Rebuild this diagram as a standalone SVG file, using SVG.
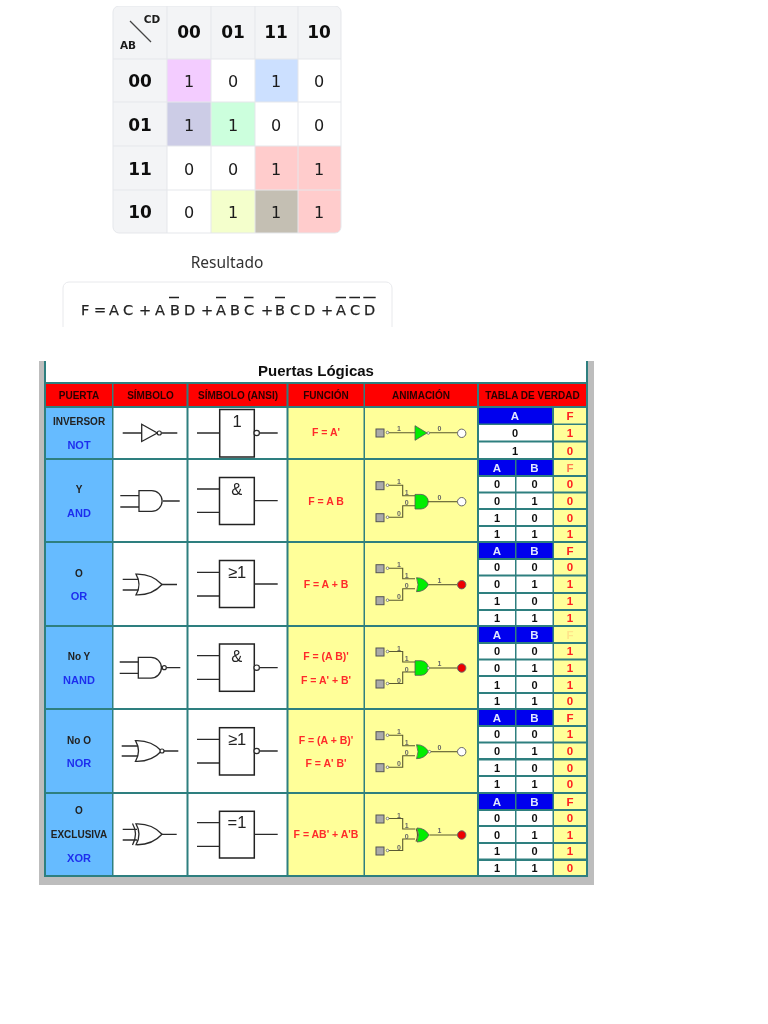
<svg xmlns="http://www.w3.org/2000/svg" xmlns:xlink="http://www.w3.org/1999/xlink" width="768" height="1024" viewBox="0 0 768 1024">
<style>
.kh{font:bold 17px "DejaVu Sans",sans-serif;fill:#111;text-anchor:middle}
.kd{font:16px "DejaVu Sans",sans-serif;fill:#1a1a1a;text-anchor:middle}
.ks{font:bold 10.5px "DejaVu Sans",sans-serif;fill:#1a1a1a;text-anchor:middle}
.kg{stroke:#e5e7eb;stroke-width:1;fill:none}
.th{font:bold 10px "Liberation Sans",sans-serif;fill:#2a0505;text-anchor:middle}
.n1{font:bold 10px "Liberation Sans",sans-serif;fill:#222;text-anchor:middle}
.n2{font:bold 11px "Liberation Sans",sans-serif;fill:#1f2fee;text-anchor:middle}
.fn{font:bold 10.5px "Liberation Sans",sans-serif;fill:#ff2a2a;text-anchor:middle}
.tv{font:bold 11px "Liberation Sans",sans-serif;fill:#111;text-anchor:middle}
.tr{font:bold 11.5px "Liberation Sans",sans-serif;fill:#ff2020;text-anchor:middle}
.tb{font:bold 11.5px "Liberation Sans",sans-serif;fill:#dfe6ff;text-anchor:middle}
.sm{font:bold 7px "Liberation Sans",sans-serif;fill:#666;text-anchor:middle}
.ansi{font:16.5px "Liberation Sans",sans-serif;fill:#222;text-anchor:middle}
.c-b{fill:#66bbff}.c-w{fill:#fff}.c-y{fill:#ffff99}.c-r{fill:#f00}.c-k{fill:#0000ee}
.sy{stroke:#2a2a2a;stroke-width:1.3;fill:none}
.sb{stroke:#2a2a2a;stroke-width:1.2;fill:#fff}
.ar{stroke:#222;stroke-width:1.5;fill:#fff}
.w{stroke:#5a5a30;stroke-width:1.1;fill:none}
.gt{fill:#00ee00;stroke:#555;stroke-width:.8}
.bb{fill:#fff;stroke:#666;stroke-width:.8}
</style>
<defs>
<filter id="soft" x="0" y="0" width="100%" height="100%"><feGaussianBlur stdDeviation="0.35"/></filter>
<clipPath id="kc"><rect x="113" y="6" width="228" height="227" rx="6"/></clipPath>
<g id="sq"><rect x="0" y="0" width="8" height="8" fill="#aaa" stroke="#555" stroke-width="1"/><circle cx="11.5" cy="3.5" r="1.3" class="bb"/></g>
<g id="wires"><use xlink:href="#sq" x="376" y="-20"/><use xlink:href="#sq" x="376" y="12"/><path class="w" d="M389-16.500H402.700V-6H415M389 15.500H402.700V4H415"/></g>
<path id="aAND" class="gt" d="M0-7.300H6A7.300 7.300 0 0 1 6 7.300H0Z"/>
<path id="aOR" class="gt" d="M0-7Q8-7 12 0Q8 7 0 7Q3 0 0-7Z"/>
<path id="bAND" class="sy" d="M0-10.400H12.700A10.400 10.400 0 0 1 12.700 10.400H0Z"/>
<path id="bOR" class="sy" d="M0-10.400Q16-11 26 0Q16 11 0 10.400Q6 0 0-10.400Z"/>
</defs>
<rect width="768" height="1024" fill="#fff"/>
<g id="lamina" filter="url(#soft)">

<g id="mapa-karnaugh">
<g clip-path="url(#kc)">
<rect x="113" y="6" width="228" height="227" fill="#f3f4f6"/>
<rect x="167" y="59" width="174" height="174" fill="#fff"/>
<rect x="167" y="59" width="44" height="43" fill="#f3ccff"/>
<rect x="255" y="59" width="43" height="43" fill="#cce0ff"/>
<rect x="167" y="102" width="44" height="44" fill="#ccccE6"/>
<rect x="211" y="102" width="44" height="44" fill="#ccffdd"/>
<rect x="255" y="146" width="86" height="44" fill="#ffcccc"/>
<rect x="211" y="190" width="44" height="43" fill="#f4ffcc"/>
<rect x="255" y="190" width="43" height="43" fill="#c4bfb3"/>
<rect x="298" y="190" width="43" height="43" fill="#ffcccc"/>
<path class="kg" d="M167 6V233M211 6V233M255 6V233M298 6V233M113 59H341M113 102H341M113 146H341M113 190H341"/>
</g>
<rect x="113" y="6" width="228" height="227" rx="6" class="kg"/>
<path d="M130 21L151 42" stroke="#444" stroke-width="1.2" fill="none"/>
<text x="152" y="23" class="ks">CD</text><text x="128" y="49" class="ks">AB</text>
<text x="189" y="38" class="kh">00</text><text x="233" y="38" class="kh">01</text><text x="276" y="38" class="kh">11</text><text x="319" y="38" class="kh">10</text>
<text x="140" y="87" class="kh">00</text><text x="140" y="131" class="kh">01</text><text x="140" y="175" class="kh">11</text><text x="140" y="218" class="kh">10</text>
<text x="189" y="87" class="kd">1</text><text x="233" y="87" class="kd">0</text><text x="276" y="87" class="kd">1</text><text x="319" y="87" class="kd">0</text>
<text x="189" y="131" class="kd">1</text><text x="233" y="131" class="kd">1</text><text x="276" y="131" class="kd">0</text><text x="319" y="131" class="kd">0</text>
<text x="189" y="175" class="kd">0</text><text x="233" y="175" class="kd">0</text><text x="276" y="175" class="kd">1</text><text x="319" y="175" class="kd">1</text>
<text x="189" y="218" class="kd">0</text><text x="233" y="218" class="kd">1</text><text x="276" y="218" class="kd">1</text><text x="319" y="218" class="kd">1</text>
</g>

<g id="resultado">
<text x="227" y="268" font-family="Noto Sans, sans-serif" font-size="15.500" fill="#333" text-anchor="middle">Resultado</text>
<path d="M63 327V288A6 6 0 0 1 69 282H386A6 6 0 0 1 392 288V327" fill="none" stroke="#e8e9ec"/>
<text y="315" font-family="DejaVu Sans, sans-serif" font-size="14.500" fill="#222" stroke="#222" stroke-width=".25" x="81 90 94 103 109 118 123 133 139 150 155 165 170 180 184 195 201 211 216 226 230 240 244 255 261 270 275 285 290 300 304 315 321 330 336 346 350 360 364">F = A C + A B D + A B C + B C D + A C D</text>
<path d="M169 297.500H179M216 297.500H226M244 297.500H253.500M275 297.500H285M335.700 297.500H346M349.300 297.500H360M363.300 297.500H375.700" stroke="#222" stroke-width="1.500"/>
</g>

<g id="tabla-marco">
<rect x="39" y="361" width="555" height="524" fill="#bdbdbd"/>
<rect x="44" y="361" width="544" height="516" fill="#2f7f7f"/>
<rect x="46" y="361" width="540" height="21" fill="#fff"/>
<text x="316" y="376" font-family="Liberation Sans, sans-serif" font-size="15" font-weight="bold" fill="#111" text-anchor="middle">Puertas Lógicas</text>
</g>

<g id="encabezado">
<rect x="46" y="384" width="66" height="22" class="c-r"/><rect x="113.500" y="384" width="73" height="22" class="c-r"/><rect x="188.500" y="384" width="98" height="22" class="c-r"/><rect x="288.500" y="384" width="75" height="22" class="c-r"/><rect x="365" y="384" width="112" height="22" class="c-r"/><rect x="479" y="384" width="107" height="22" class="c-r"/>
<text x="79" y="399" class="th">PUERTA</text><text x="150.500" y="399" class="th">SÍMBOLO</text><text x="238" y="399" class="th">SÍMBOLO (ANSI)</text><text x="326" y="399" class="th">FUNCIÓN</text><text x="421" y="399" class="th">ANIMACIÓN</text><text x="532.500" y="399" class="th">TABLA DE VERDAD</text>
</g>

<g id="fila-not">
<rect x="46" y="408" width="66" height="50" class="c-b"/><rect x="113.500" y="408" width="73" height="50" class="c-w"/><rect x="188.500" y="408" width="98" height="50" class="c-w"/><rect x="288.500" y="408" width="75" height="50" class="c-y"/><rect x="365" y="408" width="112" height="50" class="c-y"/>
<text x="79" y="425" class="n1">INVERSOR</text><text x="79" y="449" class="n2">NOT</text>
<path class="sy" d="M122.700 433H141.700M161.500 433H177.300M141.700 424.300L157.300 433L141.700 441.500Z"/><circle cx="159.300" cy="433" r="2" class="sb"/>
<rect x="219.700" y="409.500" width="34.600" height="47.500" class="ar"/><path class="sy" d="M197 433H219.700M259.500 433H277.700"/><circle cx="256.700" cy="433" r="2.700" class="sb"/><text x="237" y="427" class="ansi">1</text>
<text x="326" y="436" class="fn">F = A'</text>
<use xlink:href="#sq" x="376" y="429"/><path class="w" d="M389 432.700H415M430 432.700H457"/><path class="gt" d="M415 425.700L427 433L415 440.300Z"/><circle cx="428.300" cy="433" r="1.300" class="bb"/><circle cx="461.700" cy="433.300" r="4.200" fill="#fff" stroke="#666"/>
<text x="399" y="431" class="sm">1</text><text x="439.500" y="431" class="sm">0</text>
<rect x="479" y="408" width="73" height="15.500" class="c-k"/><rect x="554" y="408" width="32" height="15.500" class="c-y"/><rect x="479" y="425" width="73" height="15.500" class="c-w"/><rect x="554" y="425" width="32" height="15.500" class="c-y"/><rect x="479" y="442.500" width="73" height="15.500" class="c-w"/><rect x="554" y="442.500" width="32" height="15.500" class="c-y"/>
<text x="515" y="420" class="tb">A</text><text x="570" y="420" class="tr">F</text><text x="515" y="437" class="tv">0</text><text x="570" y="437" class="tr">1</text><text x="515" y="455" class="tv">1</text><text x="570" y="455" class="tr">0</text>
</g>

<g id="fila-and">
<rect x="46" y="460" width="66" height="81" class="c-b"/><rect x="113.500" y="460" width="73" height="81" class="c-w"/><rect x="188.500" y="460" width="98" height="81" class="c-w"/><rect x="288.500" y="460" width="75" height="81" class="c-y"/><rect x="365" y="460" width="112" height="81" class="c-y"/>
<text x="79" y="493" class="n1">Y</text><text x="79" y="517" class="n2">AND</text>
<use xlink:href="#bAND" x="139" y="501"/><path class="sy" d="M120.300 495.700H139M120.300 507H139M163 501H179.700"/>
<rect x="219.500" y="477.500" width="34.800" height="47" class="ar"/><path class="sy" d="M197 489H219.500M197 512.300H219.500M254.300 500.700H277.700"/><text x="236.700" y="495" class="ansi">&amp;</text>
<text x="326" y="504.500" class="fn">F = A B</text>
<use xlink:href="#wires" y="501.700"/><use xlink:href="#aAND" x="415" y="501.700"/><path class="w" d="M427.500 501.700H457"/><circle cx="461.700" cy="501.700" r="4.200" fill="#fff" stroke="#666"/>
<text x="399" y="484" class="sm">1</text><text x="406.700" y="495" class="sm">1</text><text x="399" y="516" class="sm">0</text><text x="406.700" y="505" class="sm">0</text><text x="439.500" y="500" class="sm">0</text>
<rect x="479" y="460" width="36" height="15" class="c-k"/><rect x="516.500" y="460" width="36" height="15" class="c-k"/><rect x="554" y="460" width="32" height="15" class="c-y"/>
<rect x="479" y="477" width="36" height="14.500" class="c-w"/><rect x="516.500" y="477" width="36" height="14.500" class="c-w"/><rect x="554" y="477" width="32" height="14.500" class="c-y"/>
<rect x="479" y="493.500" width="36" height="14.500" class="c-w"/><rect x="516.500" y="493.500" width="36" height="14.500" class="c-w"/><rect x="554" y="493.500" width="32" height="14.500" class="c-y"/>
<rect x="479" y="510" width="36" height="15" class="c-w"/><rect x="516.500" y="510" width="36" height="15" class="c-w"/><rect x="554" y="510" width="32" height="15" class="c-y"/>
<rect x="479" y="527" width="36" height="14" class="c-w"/><rect x="516.500" y="527" width="36" height="14" class="c-w"/><rect x="554" y="527" width="32" height="14" class="c-y"/>
<text x="497" y="471.500" class="tb">A</text><text x="534.500" y="471.500" class="tb">B</text><text x="570" y="471.500" class="tr" opacity=".6">F</text>
<text x="497" y="488" class="tv">0</text><text x="534.500" y="488" class="tv">0</text><text x="570" y="488" class="tr">0</text>
<text x="497" y="504.500" class="tv">0</text><text x="534.500" y="504.500" class="tv">1</text><text x="570" y="504.500" class="tr">0</text>
<text x="497" y="521.500" class="tv">1</text><text x="534.500" y="521.500" class="tv">0</text><text x="570" y="521.500" class="tr">0</text>
<text x="497" y="538" class="tv">1</text><text x="534.500" y="538" class="tv">1</text><text x="570" y="538" class="tr">1</text>
</g>

<g id="fila-or">
<rect x="46" y="543" width="66" height="82" class="c-b"/><rect x="113.500" y="543" width="73" height="82" class="c-w"/><rect x="188.500" y="543" width="98" height="82" class="c-w"/><rect x="288.500" y="543" width="75" height="82" class="c-y"/><rect x="365" y="543" width="112" height="82" class="c-y"/>
<text x="79" y="576.700" class="n1">O</text><text x="79" y="600" class="n2">OR</text>
<use xlink:href="#bOR" x="136" y="584.500"/><path class="sy" d="M122.700 579.300H138.300M122.700 590H138.300M161.700 584.500H177"/>
<rect x="219.500" y="560.500" width="34.800" height="47" class="ar"/><path class="sy" d="M197 572.300H219.500M197 596H219.500M254.300 584H277.700"/><text x="237" y="578" class="ansi">≥1</text>
<text x="326" y="587.500" class="fn">F = A + B</text>
<use xlink:href="#wires" y="584.700"/><use xlink:href="#aOR" x="416.500" y="584.700"/><path class="w" d="M428.500 584.700H457"/><circle cx="461.700" cy="584.700" r="4.200" fill="#ee0000" stroke="#666"/>
<text x="399" y="567" class="sm">1</text><text x="406.700" y="578" class="sm">1</text><text x="399" y="599" class="sm">0</text><text x="406.700" y="588" class="sm">0</text><text x="439.500" y="583" class="sm">1</text>
<rect x="479" y="543" width="36" height="15" class="c-k"/><rect x="516.500" y="543" width="36" height="15" class="c-k"/><rect x="554" y="543" width="32" height="15" class="c-y"/>
<rect x="479" y="560" width="36" height="14.500" class="c-w"/><rect x="516.500" y="560" width="36" height="14.500" class="c-w"/><rect x="554" y="560" width="32" height="14.500" class="c-y"/>
<rect x="479" y="576.500" width="36" height="15.500" class="c-w"/><rect x="516.500" y="576.500" width="36" height="15.500" class="c-w"/><rect x="554" y="576.500" width="32" height="15.500" class="c-y"/>
<rect x="479" y="594" width="36" height="15" class="c-w"/><rect x="516.500" y="594" width="36" height="15" class="c-w"/><rect x="554" y="594" width="32" height="15" class="c-y"/>
<rect x="479" y="611" width="36" height="14" class="c-w"/><rect x="516.500" y="611" width="36" height="14" class="c-w"/><rect x="554" y="611" width="32" height="14" class="c-y"/>
<text x="497" y="554.500" class="tb">A</text><text x="534.500" y="554.500" class="tb">B</text><text x="570" y="554.500" class="tr">F</text>
<text x="497" y="571" class="tv">0</text><text x="534.500" y="571" class="tv">0</text><text x="570" y="571" class="tr">0</text>
<text x="497" y="588" class="tv">0</text><text x="534.500" y="588" class="tv">1</text><text x="570" y="588" class="tr">1</text>
<text x="497" y="605" class="tv">1</text><text x="534.500" y="605" class="tv">0</text><text x="570" y="605" class="tr">1</text>
<text x="497" y="622" class="tv">1</text><text x="534.500" y="622" class="tv">1</text><text x="570" y="622" class="tr">1</text>
</g>

<g id="fila-nand">
<rect x="46" y="627" width="66" height="81" class="c-b"/><rect x="113.500" y="627" width="73" height="81" class="c-w"/><rect x="188.500" y="627" width="98" height="81" class="c-w"/><rect x="288.500" y="627" width="75" height="81" class="c-y"/><rect x="365" y="627" width="112" height="81" class="c-y"/>
<text x="79" y="660" class="n1">No Y</text><text x="79" y="683.700" class="n2">NAND</text>
<use xlink:href="#bAND" x="138.300" y="667.700"/><path class="sy" d="M119.700 662H138.300M119.700 673.300H138.300M166.300 667.700H180.300"/><circle cx="164.300" cy="667.700" r="2" class="sb"/>
<rect x="219.500" y="644" width="34.800" height="47.300" class="ar"/><path class="sy" d="M197 655.700H219.500M197 679.300H219.500M259.500 667.700H277.700"/><circle cx="256.700" cy="667.700" r="2.700" class="sb"/><text x="236.700" y="662" class="ansi">&amp;</text>
<text x="326" y="660" class="fn">F = (A B)'</text><text x="326" y="683.500" class="fn">F = A' + B'</text>
<use xlink:href="#wires" y="668"/><use xlink:href="#aAND" x="415" y="668"/><circle cx="428.300" cy="668" r="1.300" class="bb"/><path class="w" d="M430 668H457"/><circle cx="461.700" cy="668" r="4.200" fill="#ee0000" stroke="#666"/>
<text x="399" y="650.500" class="sm">1</text><text x="406.700" y="661" class="sm">1</text><text x="399" y="682.500" class="sm">0</text><text x="406.700" y="671.500" class="sm">0</text><text x="439.500" y="666" class="sm">1</text>
<rect x="479" y="627" width="36" height="15" class="c-k"/><rect x="516.500" y="627" width="36" height="15" class="c-k"/><rect x="554" y="627" width="32" height="15" class="c-y"/>
<rect x="479" y="644" width="36" height="14.500" class="c-w"/><rect x="516.500" y="644" width="36" height="14.500" class="c-w"/><rect x="554" y="644" width="32" height="14.500" class="c-y"/>
<rect x="479" y="660.500" width="36" height="14.500" class="c-w"/><rect x="516.500" y="660.500" width="36" height="14.500" class="c-w"/><rect x="554" y="660.500" width="32" height="14.500" class="c-y"/>
<rect x="479" y="677" width="36" height="15" class="c-w"/><rect x="516.500" y="677" width="36" height="15" class="c-w"/><rect x="554" y="677" width="32" height="15" class="c-y"/>
<rect x="479" y="694" width="36" height="14" class="c-w"/><rect x="516.500" y="694" width="36" height="14" class="c-w"/><rect x="554" y="694" width="32" height="14" class="c-y"/>
<text x="497" y="638.500" class="tb">A</text><text x="534.500" y="638.500" class="tb">B</text><text x="570" y="638.500" class="tr" opacity=".12">F</text>
<text x="497" y="655" class="tv">0</text><text x="534.500" y="655" class="tv">0</text><text x="570" y="655" class="tr">1</text>
<text x="497" y="671.500" class="tv">0</text><text x="534.500" y="671.500" class="tv">1</text><text x="570" y="671.500" class="tr">1</text>
<text x="497" y="689" class="tv">1</text><text x="534.500" y="689" class="tv">0</text><text x="570" y="689" class="tr">1</text>
<text x="497" y="705" class="tv">1</text><text x="534.500" y="705" class="tv">1</text><text x="570" y="705" class="tr">0</text>
</g>

<g id="fila-nor">
<rect x="46" y="710" width="66" height="82" class="c-b"/><rect x="113.500" y="710" width="73" height="82" class="c-w"/><rect x="188.500" y="710" width="98" height="82" class="c-w"/><rect x="288.500" y="710" width="75" height="82" class="c-y"/><rect x="365" y="710" width="112" height="82" class="c-y"/>
<text x="79" y="743.700" class="n1">No O</text><text x="79" y="767.300" class="n2">NOR</text>
<use xlink:href="#bOR" x="135.500" y="751"/><path class="sy" d="M121.700 746H138M121.700 756H138M164 751H178.300"/><circle cx="162" cy="751" r="2" class="sb"/>
<rect x="219.500" y="727.700" width="34.800" height="47.300" class="ar"/><path class="sy" d="M197 739.300H219.500M197 763H219.500M259.500 751H277.700"/><circle cx="256.700" cy="751" r="2.700" class="sb"/><text x="237" y="745" class="ansi">≥1</text>
<text x="326" y="743.700" class="fn">F = (A + B)'</text><text x="326" y="767" class="fn">F = A' B'</text>
<use xlink:href="#wires" y="751.700"/><use xlink:href="#aOR" x="416.500" y="751.700"/><circle cx="429.500" cy="751.700" r="1.300" class="bb"/><path class="w" d="M431 751.700H457"/><circle cx="461.700" cy="751.700" r="4.200" fill="#fff" stroke="#666"/>
<text x="399" y="734" class="sm">1</text><text x="406.700" y="745" class="sm">1</text><text x="399" y="766" class="sm">0</text><text x="406.700" y="755" class="sm">0</text><text x="439.500" y="750" class="sm">0</text>
<rect x="479" y="710" width="36" height="15" class="c-k"/><rect x="516.500" y="710" width="36" height="15" class="c-k"/><rect x="554" y="710" width="32" height="15" class="c-y"/>
<rect x="479" y="727" width="36" height="14.500" class="c-w"/><rect x="516.500" y="727" width="36" height="14.500" class="c-w"/><rect x="554" y="727" width="32" height="14.500" class="c-y"/>
<rect x="479" y="743.500" width="36" height="14.500" class="c-w"/><rect x="516.500" y="743.500" width="36" height="14.500" class="c-w"/><rect x="554" y="743.500" width="32" height="14.500" class="c-y"/>
<rect x="479" y="760.500" width="36" height="14.500" class="c-w"/><rect x="516.500" y="760.500" width="36" height="14.500" class="c-w"/><rect x="554" y="760.500" width="32" height="14.500" class="c-y"/>
<rect x="479" y="777" width="36" height="15" class="c-w"/><rect x="516.500" y="777" width="36" height="15" class="c-w"/><rect x="554" y="777" width="32" height="15" class="c-y"/>
<text x="497" y="721.500" class="tb">A</text><text x="534.500" y="721.500" class="tb">B</text><text x="570" y="721.500" class="tr">F</text>
<text x="497" y="738" class="tv">0</text><text x="534.500" y="738" class="tv">0</text><text x="570" y="738" class="tr">1</text>
<text x="497" y="755" class="tv">0</text><text x="534.500" y="755" class="tv">1</text><text x="570" y="755" class="tr">0</text>
<text x="497" y="772" class="tv">1</text><text x="534.500" y="772" class="tv">0</text><text x="570" y="772" class="tr">0</text>
<text x="497" y="788" class="tv">1</text><text x="534.500" y="788" class="tv">1</text><text x="570" y="788" class="tr">0</text>
</g>

<g id="fila-xor">
<rect x="46" y="794" width="66" height="81" class="c-b"/><rect x="113.500" y="794" width="73" height="81" class="c-w"/><rect x="188.500" y="794" width="98" height="81" class="c-w"/><rect x="288.500" y="794" width="75" height="81" class="c-y"/><rect x="365" y="794" width="112" height="81" class="c-y"/>
<text x="79" y="814.300" class="n1">O</text><text x="79" y="838.300" class="n1">EXCLUSIVA</text><text x="79" y="861.700" class="n2">XOR</text>
<use xlink:href="#bOR" x="136" y="834.300"/><path class="sy" d="M132.500 823.500Q138.500 834 132.500 845M122.700 829.300H137M122.700 840H137M161.700 834.300H176.700"/>
<rect x="219.500" y="811.300" width="34.800" height="46.700" class="ar"/><path class="sy" d="M197 822.700H219.500M197 846.300H219.500M254.300 834.300H277.700"/><text x="237" y="828" class="ansi">=1</text>
<text x="326" y="838.300" class="fn">F = AB' + A'B</text>
<use xlink:href="#wires" y="835"/><use xlink:href="#aOR" x="417" y="835"/><path class="w" d="M416 828.500Q419 835 416 841.500M429.500 835H457"/><circle cx="461.700" cy="835" r="4.200" fill="#ee0000" stroke="#666"/>
<text x="399" y="817.500" class="sm">1</text><text x="406.700" y="828" class="sm">1</text><text x="399" y="849.500" class="sm">0</text><text x="406.700" y="838.500" class="sm">0</text><text x="439.500" y="833" class="sm">1</text>
<rect x="479" y="794" width="36" height="15" class="c-k"/><rect x="516.500" y="794" width="36" height="15" class="c-k"/><rect x="554" y="794" width="32" height="15" class="c-y"/>
<rect x="479" y="811" width="36" height="14" class="c-w"/><rect x="516.500" y="811" width="36" height="14" class="c-w"/><rect x="554" y="811" width="32" height="14" class="c-y"/>
<rect x="479" y="827" width="36" height="15" class="c-w"/><rect x="516.500" y="827" width="36" height="15" class="c-w"/><rect x="554" y="827" width="32" height="15" class="c-y"/>
<rect x="479" y="844" width="36" height="14.500" class="c-w"/><rect x="516.500" y="844" width="36" height="14.500" class="c-w"/><rect x="554" y="844" width="32" height="14.500" class="c-y"/>
<rect x="479" y="861" width="36" height="14" class="c-w"/><rect x="516.500" y="861" width="36" height="14" class="c-w"/><rect x="554" y="861" width="32" height="14" class="c-y"/>
<text x="497" y="805.500" class="tb">A</text><text x="534.500" y="805.500" class="tb">B</text><text x="570" y="805.500" class="tr">F</text>
<text x="497" y="822" class="tv">0</text><text x="534.500" y="822" class="tv">0</text><text x="570" y="822" class="tr">0</text>
<text x="497" y="838.500" class="tv">0</text><text x="534.500" y="838.500" class="tv">1</text><text x="570" y="838.500" class="tr">1</text>
<text x="497" y="855" class="tv">1</text><text x="534.500" y="855" class="tv">0</text><text x="570" y="855" class="tr">1</text>
<text x="497" y="872" class="tv">1</text><text x="534.500" y="872" class="tv">1</text><text x="570" y="872" class="tr">0</text>
</g>
</g>
</svg>
